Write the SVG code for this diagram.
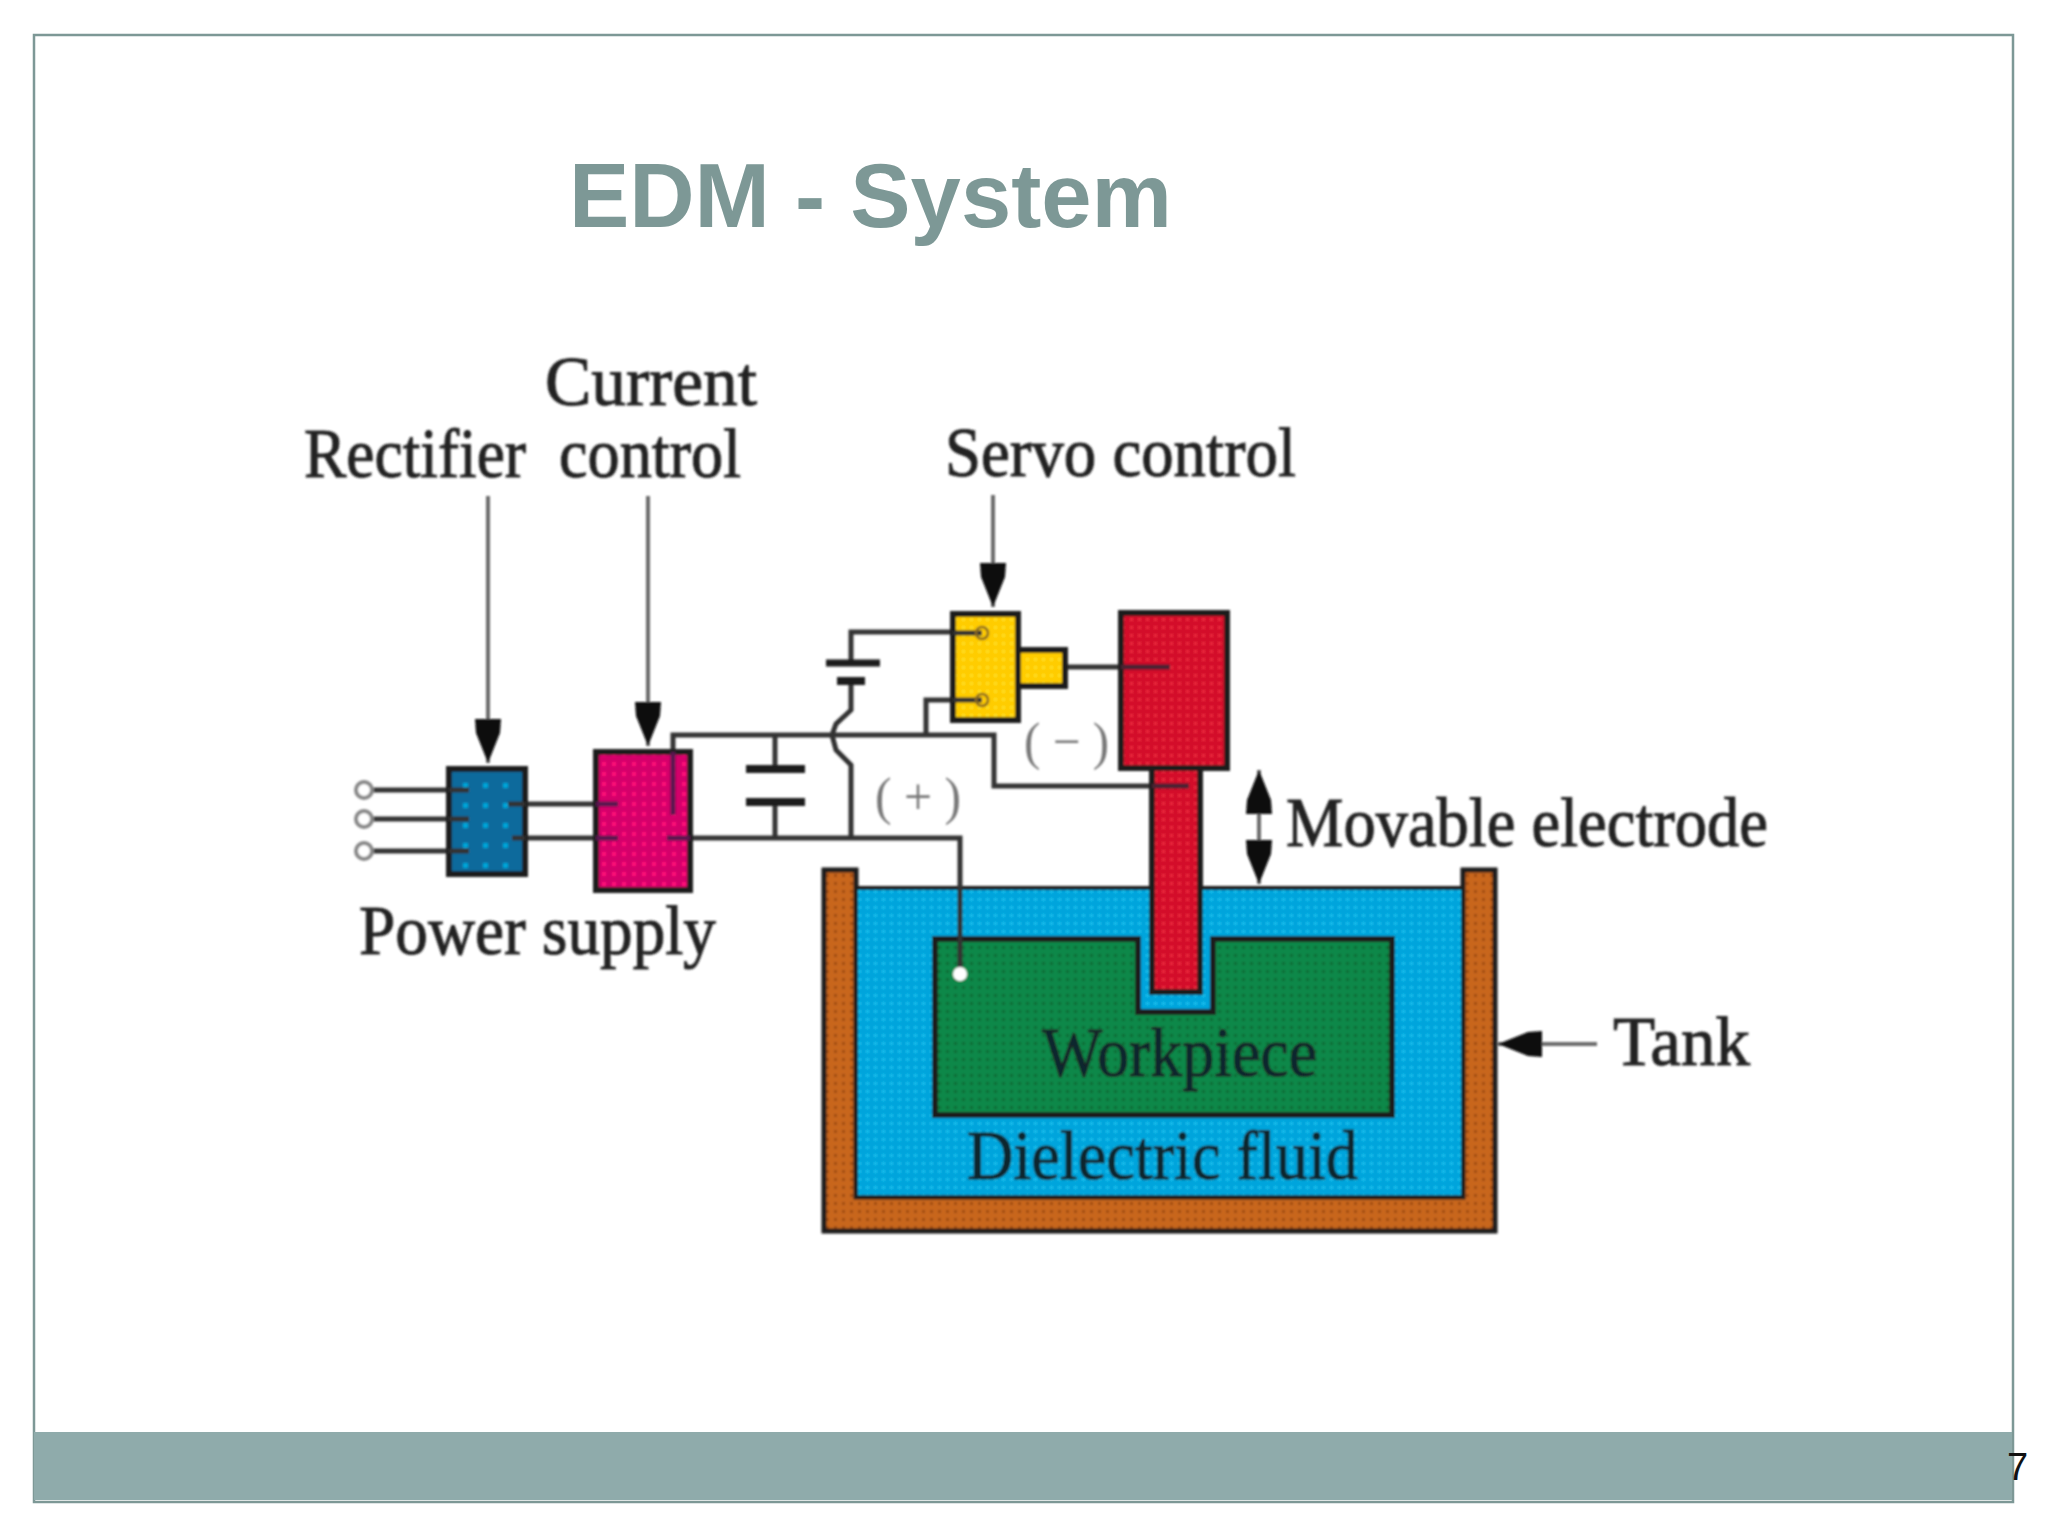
<svg xmlns="http://www.w3.org/2000/svg" width="2048" height="1536" viewBox="0 0 2048 1536">
<style>
.lbl{font-family:"Liberation Serif","Times New Roman",serif;font-size:70px;fill:#222;stroke:#222;stroke-width:1}
.in{fill:#10252e}
.wire{fill:none;stroke:#333;stroke-width:5}
.lead{fill:none;stroke:#6a6a6a;stroke-width:4}
.box{stroke:#1c1c1c;stroke-width:6}
.port{fill:none;stroke:#8a6a20;stroke-width:2.5}
</style>
<defs>
<marker id="head" markerUnits="userSpaceOnUse" markerWidth="46" markerHeight="28" refX="44" refY="13" orient="auto"><path d="M0,0 L14,1 L44,13 L14,25 L0,26 Z" fill="#0c0c0c"/></marker>
<pattern id="pBlue" width="20" height="20" patternUnits="userSpaceOnUse"><rect width="20" height="20" fill="#0f6a9c"/><rect x="3" y="3" width="5" height="5" fill="#00a4d8"/></pattern>
<pattern id="pPink" width="10" height="10" patternUnits="userSpaceOnUse"><rect width="10" height="10" fill="#d4006a"/><rect x="2" y="2" width="4" height="4" fill="#ff0a78"/></pattern>
<pattern id="pYellow" width="8" height="8" patternUnits="userSpaceOnUse"><rect width="8" height="8" fill="#ffcc00"/><rect x="2" y="2" width="3" height="3" fill="#ffe020"/></pattern>
<pattern id="pRed" width="8" height="8" patternUnits="userSpaceOnUse"><rect width="8" height="8" fill="#d30f2c"/><rect x="2" y="2" width="3" height="3" fill="#ec2a3c"/></pattern>
<pattern id="pGreen" width="8" height="8" patternUnits="userSpaceOnUse"><rect width="8" height="8" fill="#10884a"/><rect x="2" y="2" width="3" height="3" fill="#0a6a36"/></pattern>
<pattern id="pFluid" width="8" height="8" patternUnits="userSpaceOnUse"><rect width="8" height="8" fill="#00a4dc"/><rect x="2" y="2" width="3" height="3" fill="#12c0ee"/></pattern>
<pattern id="pTank" width="8" height="8" patternUnits="userSpaceOnUse"><rect width="8" height="8" fill="#c8661c"/><rect x="2" y="2" width="3" height="3" fill="#a04c14"/></pattern>
<filter id="soft" x="-2%" y="-2%" width="104%" height="104%"><feGaussianBlur stdDeviation="0.9"/></filter>
</defs>
<rect width="2048" height="1536" fill="#fff"/>
<g id="slide-frame">
<rect x="34" y="35" width="1979" height="1467" fill="#fff" stroke="#7d9896" stroke-width="2.5"/>
<rect x="34" y="1432" width="1978" height="68" fill="#8fabab"/>
<text x="2007" y="1480" font-family="'Liberation Sans',Arial,sans-serif" font-size="38" fill="#111">7</text>
</g>
<text id="title" x="569" y="227" font-family="'Liberation Sans',Arial,sans-serif" font-size="90" font-weight="700" fill="#7d9896" textLength="603" lengthAdjust="spacingAndGlyphs">EDM - System</text>
<g filter="url(#soft)">
<g id="tank">
<path class="box" style="stroke-width:5" fill="url(#pTank)" d="M824,870 H856 V888 V1197 H1463 V888 V870 H1495 V1231 H824 Z"/>
</g>
<g id="fluid">
<rect x="856" y="888" width="607" height="309" fill="url(#pFluid)"/>
<path d="M856,888 H1463 M856,888 V1197 H1463 V888" fill="none" stroke="#1c1c1c" stroke-width="4"/>
</g>
<g id="workpiece">
<path class="box" fill="url(#pGreen)" d="M935,939 H1138 V1012 H1213 V939 H1392 V1115 H935 Z"/>
</g>
<g id="connectors">
<path class="wire" d="M373,790 H469 M373,819 H469 M373,851 H469"/>
<path class="wire" d="M508,804 H618 M512,838 H618"/>
<path class="wire" d="M673,815 V735 H994 V786 H1189"/>
<path class="wire" d="M667,838 H960 V972"/>
<path class="wire" d="M775,735 V769 M775,802 V838"/>
<path class="wire" d="M851,838 V765 L836,750 L832,735 L836,724 L851,710 V681 M851,663 V632 H982"/>
<path class="wire" d="M926,735 V700 H982"/>
<path class="wire" d="M1065,667 H1170"/>
<path class="lead" d="M488,496 V763" marker-end="url(#head)"/>
<path class="lead" d="M648,496 V746" marker-end="url(#head)"/>
<path class="lead" d="M993,495 V607" marker-end="url(#head)"/>
<path class="lead" d="M1259,826 V770" marker-end="url(#head)"/>
<path class="lead" d="M1259,826 V884" marker-end="url(#head)"/>
<path class="lead" d="M1597,1044 H1498" marker-end="url(#head)"/>
</g>
<g id="rectifier">
<rect class="box" x="449" y="769" width="76" height="105" fill="url(#pBlue)"/>
<path class="wire" d="M449,790 H469 M449,819 H469 M449,851 H469 M508,804 H525 M512,838 H525"/>
<circle cx="364" cy="790" r="8" fill="#fff" stroke="#888" stroke-width="4"/>
<circle cx="364" cy="819" r="8" fill="#fff" stroke="#888" stroke-width="4"/>
<circle cx="364" cy="851" r="8" fill="#fff" stroke="#888" stroke-width="4"/>
</g>
<g id="current-control">
<rect class="box" x="596" y="752" width="94" height="138" fill="url(#pPink)"/>
<path d="M596,804 H618 M596,838 H618 M673,752 V815 M667,838 H690" fill="none" stroke="#5a1850" stroke-width="5"/>
</g>
<g id="capacitor">
<path d="M746,769 H805 M746,802 H805" stroke="#1c1c1c" stroke-width="8" fill="none"/>
</g>
<g id="battery">
<path d="M826,663 H880" stroke="#1c1c1c" stroke-width="7" fill="none"/>
<path d="M837,681 H865" stroke="#1c1c1c" stroke-width="8" fill="none"/>
</g>
<g id="servo">
<rect class="box" x="953" y="614" width="65" height="106" fill="url(#pYellow)"/>
<rect class="box" x="1018" y="650" width="47" height="36" fill="url(#pYellow)"/>
<path class="wire" d="M953,633 H982 M953,700 H982"/>
<circle class="port" cx="982" cy="633" r="6"/>
<circle class="port" cx="982" cy="700" r="6"/>
</g>
<g id="electrode">
<rect class="box" x="1152" y="768" width="48" height="224" fill="url(#pRed)"/>
<rect class="box" x="1121" y="613" width="106" height="155" fill="url(#pRed)"/>
<path d="M1121,667 H1170 M1152,786 H1189" fill="none" stroke="#4a2030" stroke-width="5"/>
</g>
<circle id="contact" cx="960" cy="974" r="7" fill="#fff"/>
<g id="labels">
<text class="lbl" x="304" y="477" textLength="222" lengthAdjust="spacingAndGlyphs">Rectifier</text>
<text class="lbl" x="545" y="405" textLength="212" lengthAdjust="spacingAndGlyphs">Current</text>
<text class="lbl" x="559" y="477" textLength="182" lengthAdjust="spacingAndGlyphs">control</text>
<text class="lbl" x="359" y="954" textLength="357" lengthAdjust="spacingAndGlyphs">Power supply</text>
<text class="lbl" x="945" y="476" textLength="351" lengthAdjust="spacingAndGlyphs">Servo control</text>
<text class="lbl" x="1286" y="846" textLength="482" lengthAdjust="spacingAndGlyphs">Movable electrode</text>
<text class="lbl" x="1613" y="1065" textLength="137" lengthAdjust="spacingAndGlyphs">Tank</text>
<text class="lbl in" x="1042" y="1076" textLength="275" lengthAdjust="spacingAndGlyphs">Workpiece</text>
<text class="lbl in" x="967" y="1179" textLength="391" lengthAdjust="spacingAndGlyphs">Dielectric fluid</text>
<text class="lbl" x="875" y="814" textLength="86" lengthAdjust="spacingAndGlyphs" style="font-size:52px;fill:#777;stroke:none">( + )</text>
<text class="lbl" x="1024" y="759" textLength="85" lengthAdjust="spacingAndGlyphs" style="font-size:52px;fill:#777;stroke:none">( − )</text>
</g>
</g>
</svg>
